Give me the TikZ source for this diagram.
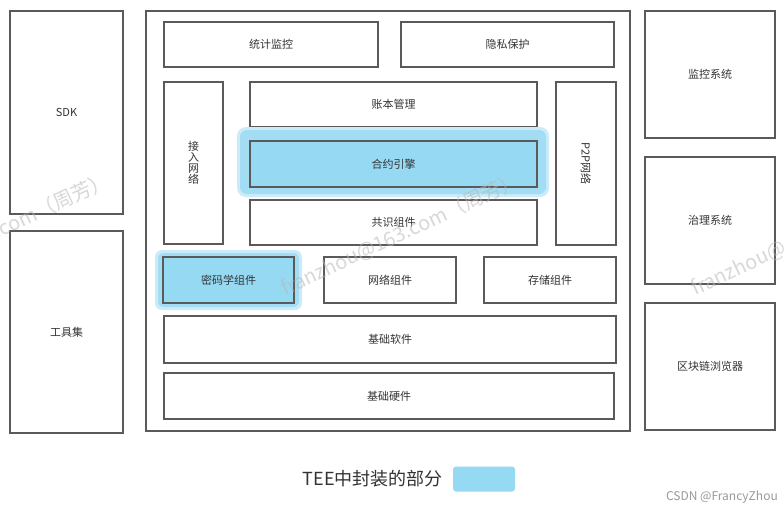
\documentclass[tikz,border=0pt]{standalone}
\usepackage{fontspec}
\setmainfont{Noto Sans CJK SC}
\definecolor{boxc}{HTML}{5A5A5A}
\definecolor{txt}{HTML}{333333}
\definecolor{teefill}{HTML}{95D9F2}
\definecolor{glowc}{HTML}{A3DDF3}
\definecolor{glowout}{HTML}{CBEBF8}
\definecolor{wm}{HTML}{B8B8B8}
\tikzset{
  box/.style={draw=boxc, line width=1.2pt, fill=white, inner sep=0pt,
    font=\fontsize{11}{12}\selectfont, text=txt},
  teebox/.style={box, fill=teefill},
  lbl/.style={font=\fontsize{11}{11}\selectfont, text=txt, inner sep=0pt},
  wmark/.style={font=\fontsize{20}{20}\selectfont, text=wm, opacity=0.55, rotate=25, anchor=base west, inner sep=0pt},
}
\newcommand\bx[7][box]{%
  \node[#1, minimum width={(#5-#3)*1pt}, minimum height={(#6-#4)*1pt}]
    (#2) at ({(#3+#5)/2},{(#4+#6)/2}) {#7};}
\begin{document}
\begin{tikzpicture}[x=1pt,y=-1pt]
\useasboundingbox (0,0) rectangle (784,511);
\fill[white] (0,0) rectangle (784,511);
% left column
\bx{sdk}{10}{11}{123}{214}{SDK}
\bx{tools}{10}{231}{123}{433}{工具集}
% main frame
\bx{frame}{146}{11}{630}{431}{}
% right column
\bx{mon}{645}{11}{775}{138}{监控系统}
\bx{gov}{645}{157}{775}{284}{治理系统}
\bx{browser}{645}{303}{775}{430}{区块链浏览器}
% inside
\bx{stat}{164}{22}{378}{67}{统计监控}
\bx{priv}{401}{22}{614}{67}{隐私保护}
\bx{access}{164}{82}{223}{244}{}
\node[lbl, align=center] at (access) {接\\入\\网\\络};
\bx{ledger}{250}{82}{537}{127}{账本管理}
\fill[glowout, rounded corners=9pt] (237,127) rectangle (549,197);
\fill[glowc, rounded corners=7pt] (240,130) rectangle (546,194);
\bx[teebox]{contract}{250}{141}{537}{187}{合约引擎}
\bx{consensus}{250}{200}{537}{245}{共识组件}
\bx{p2p}{556}{82}{616}{245}{}
\node[lbl, rotate=-90] at (p2p) {P2P网络};
\fill[glowout, rounded corners=7pt] (155,250) rectangle (302,310);
\fill[glowc, rounded corners=5pt] (158,253) rectangle (299,307);
\bx[teebox]{crypto}{163}{257}{294}{303}{密码学组件}
\bx{net}{324}{257}{456}{303}{网络组件}
\bx{store}{484}{257}{616}{303}{存储组件}
\bx{basesw}{164}{316}{616}{363}{基础软件}
\bx{basehw}{164}{373}{614}{419}{基础硬件}
% legend
\node[font=\fontsize{18}{18}\selectfont, text=txt, anchor=east, inner sep=0pt] (legtext) at (443,479) {TEE中封装的部分};
\node[fill=teefill, rounded corners=3pt, minimum width=62pt, minimum height=25pt, inner sep=0pt] (legbox) at (484,479) {};
\node[font=\fontsize{12}{12}\selectfont, text=black!40, anchor=east, inner sep=0pt] (csdn) at (778,497) {CSDN @FrancyZhou};
% watermarks
\begin{scope}
\clip (0,0) rectangle (784,511);
\node[wmark] (wm1) at (-125,296) {franzhou@163.com（周芳）};
\node[wmark] (wm2) at (285,296) {franzhou@163.com（周芳）};
\node[wmark] (wm3) at (695,296) {franzhou@163.com（周芳）};
\end{scope}
\end{tikzpicture}
\end{document}
